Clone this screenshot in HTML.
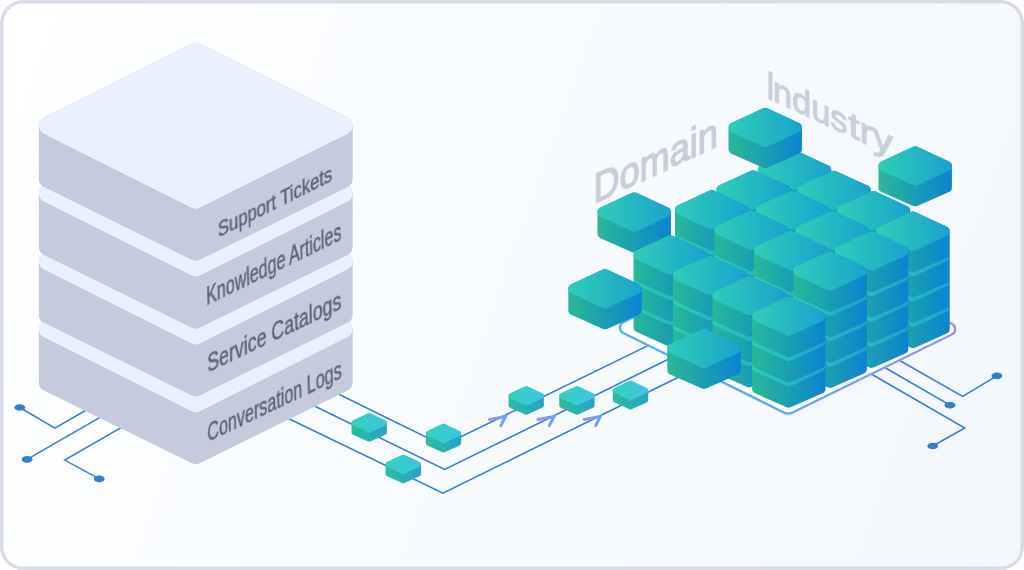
<!DOCTYPE html>
<html><head><meta charset="utf-8"><title>Diagram</title>
<style>html,body{margin:0;padding:0;background:#ffffff;}body{width:1024px;height:570px;overflow:hidden;font-family:"Liberation Sans",sans-serif;}svg{display:block;}</style>
</head><body>
<svg width="1024" height="570" viewBox="0 0 1024 570">

<defs>
<linearGradient id="bg" gradientUnits="userSpaceOnUse" x1="0" y1="100" x2="1024" y2="470">
  <stop offset="0" stop-color="#ffffff"/><stop offset="0.22" stop-color="#fbfdff"/><stop offset="0.5" stop-color="#f7fbfe"/><stop offset="1" stop-color="#f4f8fd"/>
</linearGradient>
<linearGradient id="gt" x1="0" y1="0" x2="1" y2="0">
  <stop offset="0" stop-color="#2fcdb8"/><stop offset="1" stop-color="#1aa2ce"/>
</linearGradient>
<linearGradient id="gb" x1="0" y1="0" x2="1" y2="0">
  <stop offset="0" stop-color="#2ab897"/><stop offset="1" stop-color="#0b83d1"/>
</linearGradient>
<linearGradient id="st" x1="0" y1="0" x2="1" y2="0">
  <stop offset="0" stop-color="#33d1bd"/><stop offset="1" stop-color="#3cc6e2"/>
</linearGradient>
<linearGradient id="sb" x1="0" y1="0" x2="1" y2="0">
  <stop offset="0" stop-color="#2bbd9c"/><stop offset="1" stop-color="#2aa3c8"/>
</linearGradient>
<linearGradient id="ol" gradientUnits="userSpaceOnUse" x1="620" y1="0" x2="955" y2="0">
  <stop offset="0" stop-color="#4fb0f8"/><stop offset="0.35" stop-color="#57a9f8"/><stop offset="0.7" stop-color="#7a9af8"/><stop offset="1" stop-color="#9c8ef8"/>
</linearGradient>
<linearGradient id="ar" x1="0" y1="0" x2="1" y2="0">
  <stop offset="0" stop-color="#9d8cf8"/><stop offset="0.6" stop-color="#8a98f8"/><stop offset="1" stop-color="#5caaf8"/>
</linearGradient>
<filter id="id" x="-5%" y="-50%" width="110%" height="200%" color-interpolation-filters="sRGB"><feOffset dx="0" dy="0"/></filter>
</defs>

<rect x="1.75" y="1.75" width="1020.5" height="566.5" rx="21.5" fill="url(#bg)" stroke="#d9dce7" stroke-width="3.5"/>
<polyline points="19.8,407.5 54.9,428.2 95.0,405.0" fill="none" stroke="#327cd7" stroke-width="1.5" stroke-linejoin="miter"/>
<ellipse cx="19.8" cy="407.5" rx="5.4" ry="3.3" fill="#2f7dd6"/>
<polyline points="27.1,459.4 110.0,411.6" fill="none" stroke="#327cd7" stroke-width="1.5" stroke-linejoin="miter"/>
<ellipse cx="27.1" cy="459.4" rx="5.4" ry="3.3" fill="#2f7dd6"/>
<polyline points="99.2,478.9 64.7,460.1 135.0,419.6" fill="none" stroke="#327cd7" stroke-width="1.5" stroke-linejoin="miter"/>
<ellipse cx="99.2" cy="478.9" rx="5.4" ry="3.3" fill="#2f7dd6"/>
<polyline points="320.0,385.0 443.0,445.5 649.0,345.2" fill="none" stroke="#327cd7" stroke-width="1.5" stroke-linejoin="miter"/>
<polyline points="300.0,399.0 444.7,469.5 680.0,353.5" fill="none" stroke="#327cd7" stroke-width="1.5" stroke-linejoin="miter"/>
<polyline points="275.0,412.0 443.0,493.2 690.0,371.5" fill="none" stroke="#327cd7" stroke-width="1.5" stroke-linejoin="miter"/>
<polyline points="890.0,355.0 962.6,396.3 996.9,375.8" fill="none" stroke="#327cd7" stroke-width="1.5" stroke-linejoin="miter"/>
<ellipse cx="996.9" cy="375.8" rx="5.4" ry="3.3" fill="#2f7dd6"/>
<polyline points="870.0,359.0 950.0,405.2" fill="none" stroke="#327cd7" stroke-width="1.5" stroke-linejoin="miter"/>
<ellipse cx="950.0" cy="405.2" rx="5.4" ry="3.3" fill="#2f7dd6"/>
<polyline points="860.0,367.5 964.8,428.0 932.7,446.0" fill="none" stroke="#327cd7" stroke-width="1.5" stroke-linejoin="miter"/>
<ellipse cx="932.7" cy="446.0" rx="5.4" ry="3.3" fill="#2f7dd6"/>
<path d="M43.80 337.05 A9.00 9.00 0 0 1 43.80 320.95 L191.72 246.82 A9.00 9.00 0 0 1 199.78 246.82 L347.70 320.95 A9.00 9.00 0 0 1 347.70 337.05 L199.78 411.18 A9.00 9.00 0 0 1 191.72 411.18 Z M43.87 390.52 A9.00 9.00 0 0 1 43.87 374.37 L191.78 301.65 A9.00 9.00 0 0 1 199.72 301.65 L347.63 374.37 A9.00 9.00 0 0 1 347.63 390.52 L199.72 463.25 A9.00 9.00 0 0 1 191.78 463.25 Z M38.84 329.00 L352.66 329.00 L352.66 382.45 L38.84 382.45 Z" fill="#c5cadc"/>
<path d="M43.80 337.05 A9.00 9.00 0 0 1 43.80 320.95 L191.72 246.82 A9.00 9.00 0 0 1 199.78 246.82 L347.70 320.95 A9.00 9.00 0 0 1 347.70 337.05 L199.78 411.18 A9.00 9.00 0 0 1 191.72 411.18 Z" fill="#ebf0ff"/>
<path d="M43.80 269.25 A9.00 9.00 0 0 1 43.80 253.15 L191.72 179.02 A9.00 9.00 0 0 1 199.78 179.02 L347.70 253.15 A9.00 9.00 0 0 1 347.70 269.25 L199.78 343.38 A9.00 9.00 0 0 1 191.72 343.38 Z M43.87 322.72 A9.00 9.00 0 0 1 43.87 306.57 L191.78 233.85 A9.00 9.00 0 0 1 199.72 233.85 L347.63 306.57 A9.00 9.00 0 0 1 347.63 322.72 L199.72 395.45 A9.00 9.00 0 0 1 191.78 395.45 Z M38.84 261.20 L352.66 261.20 L352.66 314.65 L38.84 314.65 Z" fill="#c5cadc"/>
<path d="M43.80 269.25 A9.00 9.00 0 0 1 43.80 253.15 L191.72 179.02 A9.00 9.00 0 0 1 199.78 179.02 L347.70 253.15 A9.00 9.00 0 0 1 347.70 269.25 L199.78 343.38 A9.00 9.00 0 0 1 191.72 343.38 Z" fill="#ebf0ff"/>
<path d="M43.80 201.45 A9.00 9.00 0 0 1 43.80 185.35 L191.72 111.22 A9.00 9.00 0 0 1 199.78 111.22 L347.70 185.35 A9.00 9.00 0 0 1 347.70 201.45 L199.78 275.58 A9.00 9.00 0 0 1 191.72 275.58 Z M43.87 254.92 A9.00 9.00 0 0 1 43.87 238.77 L191.78 166.05 A9.00 9.00 0 0 1 199.72 166.05 L347.63 238.77 A9.00 9.00 0 0 1 347.63 254.92 L199.72 327.65 A9.00 9.00 0 0 1 191.78 327.65 Z M38.84 193.40 L352.66 193.40 L352.66 246.85 L38.84 246.85 Z" fill="#c5cadc"/>
<path d="M43.80 201.45 A9.00 9.00 0 0 1 43.80 185.35 L191.72 111.22 A9.00 9.00 0 0 1 199.78 111.22 L347.70 185.35 A9.00 9.00 0 0 1 347.70 201.45 L199.78 275.58 A9.00 9.00 0 0 1 191.72 275.58 Z" fill="#ebf0ff"/>
<path d="M43.80 133.65 A9.00 9.00 0 0 1 43.80 117.55 L191.72 43.42 A9.00 9.00 0 0 1 199.78 43.42 L347.70 117.55 A9.00 9.00 0 0 1 347.70 133.65 L199.78 207.78 A9.00 9.00 0 0 1 191.72 207.78 Z M43.87 187.12 A9.00 9.00 0 0 1 43.87 170.97 L191.78 98.25 A9.00 9.00 0 0 1 199.72 98.25 L347.63 170.97 A9.00 9.00 0 0 1 347.63 187.12 L199.72 259.85 A9.00 9.00 0 0 1 191.78 259.85 Z M38.84 125.60 L352.66 125.60 L352.66 179.05 L38.84 179.05 Z" fill="#c5cadc"/>
<path d="M43.80 133.65 A9.00 9.00 0 0 1 43.80 117.55 L191.72 43.42 A9.00 9.00 0 0 1 199.78 43.42 L347.70 117.55 A9.00 9.00 0 0 1 347.70 133.65 L199.78 207.78 A9.00 9.00 0 0 1 191.72 207.78 Z" fill="#ebf0ff"/>
<text filter="url(#id)" transform="matrix(1 -0.499 0.030 1 218.2 237.6)" font-family="Liberation Sans, sans-serif" font-weight="normal" font-size="21.2" fill="#5c6478" stroke="#5c6478" stroke-width="0.45" textLength="114.2" lengthAdjust="spacingAndGlyphs">Support Tickets</text>
<text filter="url(#id)" transform="matrix(1 -0.488 0.030 1 206.5 305.5)" font-family="Liberation Sans, sans-serif" font-weight="normal" font-size="26" fill="#5c6478" stroke="#5c6478" stroke-width="0.45" textLength="135.1" lengthAdjust="spacingAndGlyphs">Knowledge Articles</text>
<text filter="url(#id)" transform="matrix(1 -0.480 0.030 1 207.6 372.8)" font-family="Liberation Sans, sans-serif" font-weight="normal" font-size="26" fill="#5c6478" stroke="#5c6478" stroke-width="0.45" textLength="134.0" lengthAdjust="spacingAndGlyphs">Service Catalogs</text>
<text filter="url(#id)" transform="matrix(1 -0.480 0.030 1 207.6 442.2)" font-family="Liberation Sans, sans-serif" font-weight="normal" font-size="26" fill="#5c6478" stroke="#5c6478" stroke-width="0.45" textLength="134.3" lengthAdjust="spacingAndGlyphs">Conversation Logs</text>
<path d="M623.23 333.00 A6.00 6.00 0 0 1 623.25 322.24 L783.06 243.97 A10.00 10.00 0 0 1 791.92 244.01 L951.83 323.78 A6.00 6.00 0 0 1 951.79 334.54 L792.62 412.44 A10.00 10.00 0 0 1 783.79 412.42 Z" fill="#ffffff" stroke="url(#ol)" stroke-width="2.3"/>
<text filter="url(#id)" transform="matrix(1 -0.467 0.000 1 593.6 204.1)" font-family="Liberation Sans, sans-serif" font-weight="normal" font-size="43" fill="#cacdd8" stroke="#cacdd8" stroke-width="1.5" textLength="124.2" lengthAdjust="spacingAndGlyphs">Domain</text>
<text filter="url(#id)" transform="matrix(1 0.465 0.000 1 765.8 97.3)" font-family="Liberation Sans, sans-serif" font-weight="normal" font-size="38" fill="#cbcfd9" stroke="#cbcfd9" stroke-width="1.3" textLength="9.2" lengthAdjust="spacingAndGlyphs">I</text>
<text filter="url(#id)" transform="matrix(1 0.465 0.000 1 773.0 100.6)" font-family="Liberation Sans, sans-serif" font-weight="normal" font-size="35" fill="#cbcfd9" stroke="#cbcfd9" stroke-width="1.3" textLength="74.6" lengthAdjust="spacingAndGlyphs">ndus</text>
<text filter="url(#id)" transform="matrix(1 0.465 0.000 1 848.6 135.8)" font-family="Liberation Sans, sans-serif" font-weight="normal" font-size="35" fill="#cbcfd9" stroke="#cbcfd9" stroke-width="1.3" textLength="44.0" lengthAdjust="spacingAndGlyphs">try</text>
<path d="M600.39 216.64 A5.00 5.00 0 0 1 600.39 207.56 L632.10 192.87 A5.00 5.00 0 0 1 636.30 192.87 L668.01 207.56 A5.00 5.00 0 0 1 668.01 216.64 L636.30 231.33 A5.00 5.00 0 0 1 632.10 231.33 Z M600.47 238.17 A5.00 5.00 0 0 1 600.47 229.02 L632.18 214.99 A5.00 5.00 0 0 1 636.22 214.99 L667.93 229.02 A5.00 5.00 0 0 1 667.93 238.17 L636.22 252.20 A5.00 5.00 0 0 1 632.18 252.20 Z M597.49 212.10 L670.91 212.10 L670.91 233.60 L597.49 233.60 Z" fill="url(#gb)"/>
<path d="M600.39 216.64 A5.00 5.00 0 0 1 600.39 207.56 L632.10 192.87 A5.00 5.00 0 0 1 636.30 192.87 L668.01 207.56 A5.00 5.00 0 0 1 668.01 216.64 L636.30 231.33 A5.00 5.00 0 0 1 632.10 231.33 Z" fill="url(#gt)"/>
<path d="M881.39 170.54 A5.00 5.00 0 0 1 881.39 161.46 L913.10 146.77 A5.00 5.00 0 0 1 917.30 146.77 L949.01 161.46 A5.00 5.00 0 0 1 949.01 170.54 L917.30 185.23 A5.00 5.00 0 0 1 913.10 185.23 Z M881.47 192.07 A5.00 5.00 0 0 1 881.47 182.92 L913.18 168.89 A5.00 5.00 0 0 1 917.22 168.89 L948.93 182.92 A5.00 5.00 0 0 1 948.93 192.07 L917.22 206.10 A5.00 5.00 0 0 1 913.18 206.10 Z M878.49 166.00 L951.91 166.00 L951.91 187.50 L878.49 187.50 Z" fill="url(#gb)"/>
<path d="M881.39 170.54 A5.00 5.00 0 0 1 881.39 161.46 L913.10 146.77 A5.00 5.00 0 0 1 917.30 146.77 L949.01 161.46 A5.00 5.00 0 0 1 949.01 170.54 L917.30 185.23 A5.00 5.00 0 0 1 913.10 185.23 Z" fill="url(#gt)"/>
<path d="M760.69 250.44 A5.00 5.00 0 0 1 760.69 241.36 L792.40 226.67 A5.00 5.00 0 0 1 796.60 226.67 L828.31 241.36 A5.00 5.00 0 0 1 828.31 250.44 L796.60 265.13 A5.00 5.00 0 0 1 792.40 265.13 Z M760.77 272.42 A5.00 5.00 0 0 1 760.77 263.27 L792.48 249.24 A5.00 5.00 0 0 1 796.52 249.24 L828.23 263.27 A5.00 5.00 0 0 1 828.23 272.42 L796.52 286.45 A5.00 5.00 0 0 1 792.48 286.45 Z M757.79 245.90 L831.21 245.90 L831.21 267.85 L757.79 267.85 Z" fill="url(#gb)"/>
<path d="M760.69 250.44 A5.00 5.00 0 0 1 760.69 241.36 L792.40 226.67 A5.00 5.00 0 0 1 796.60 226.67 L828.31 241.36 A5.00 5.00 0 0 1 828.31 250.44 L796.60 265.13 A5.00 5.00 0 0 1 792.40 265.13 Z" fill="url(#gt)"/>
<path d="M760.69 225.14 A5.00 5.00 0 0 1 760.69 216.06 L792.40 201.37 A5.00 5.00 0 0 1 796.60 201.37 L828.31 216.06 A5.00 5.00 0 0 1 828.31 225.14 L796.60 239.83 A5.00 5.00 0 0 1 792.40 239.83 Z M760.77 247.12 A5.00 5.00 0 0 1 760.77 237.97 L792.48 223.94 A5.00 5.00 0 0 1 796.52 223.94 L828.23 237.97 A5.00 5.00 0 0 1 828.23 247.12 L796.52 261.15 A5.00 5.00 0 0 1 792.48 261.15 Z M757.79 220.60 L831.21 220.60 L831.21 242.55 L757.79 242.55 Z" fill="url(#gb)"/>
<path d="M760.69 225.14 A5.00 5.00 0 0 1 760.69 216.06 L792.40 201.37 A5.00 5.00 0 0 1 796.60 201.37 L828.31 216.06 A5.00 5.00 0 0 1 828.31 225.14 L796.60 239.83 A5.00 5.00 0 0 1 792.40 239.83 Z" fill="url(#gt)"/>
<path d="M760.69 199.84 A5.00 5.00 0 0 1 760.69 190.76 L792.40 176.07 A5.00 5.00 0 0 1 796.60 176.07 L828.31 190.76 A5.00 5.00 0 0 1 828.31 199.84 L796.60 214.53 A5.00 5.00 0 0 1 792.40 214.53 Z M760.77 221.82 A5.00 5.00 0 0 1 760.77 212.67 L792.48 198.64 A5.00 5.00 0 0 1 796.52 198.64 L828.23 212.67 A5.00 5.00 0 0 1 828.23 221.82 L796.52 235.85 A5.00 5.00 0 0 1 792.48 235.85 Z M757.79 195.30 L831.21 195.30 L831.21 217.25 L757.79 217.25 Z" fill="url(#gb)"/>
<path d="M760.69 199.84 A5.00 5.00 0 0 1 760.69 190.76 L792.40 176.07 A5.00 5.00 0 0 1 796.60 176.07 L828.31 190.76 A5.00 5.00 0 0 1 828.31 199.84 L796.60 214.53 A5.00 5.00 0 0 1 792.40 214.53 Z" fill="url(#gt)"/>
<path d="M760.69 174.54 A5.00 5.00 0 0 1 760.69 165.46 L792.40 150.77 A5.00 5.00 0 0 1 796.60 150.77 L828.31 165.46 A5.00 5.00 0 0 1 828.31 174.54 L796.60 189.23 A5.00 5.00 0 0 1 792.40 189.23 Z M760.77 196.52 A5.00 5.00 0 0 1 760.77 187.37 L792.48 173.34 A5.00 5.00 0 0 1 796.52 173.34 L828.23 187.37 A5.00 5.00 0 0 1 828.23 196.52 L796.52 210.55 A5.00 5.00 0 0 1 792.48 210.55 Z M757.79 170.00 L831.21 170.00 L831.21 191.95 L757.79 191.95 Z" fill="url(#gb)"/>
<path d="M760.69 174.54 A5.00 5.00 0 0 1 760.69 165.46 L792.40 150.77 A5.00 5.00 0 0 1 796.60 150.77 L828.31 165.46 A5.00 5.00 0 0 1 828.31 174.54 L796.60 189.23 A5.00 5.00 0 0 1 792.40 189.23 Z" fill="url(#gt)"/>
<path d="M719.29 270.34 A5.00 5.00 0 0 1 719.29 261.26 L751.00 246.57 A5.00 5.00 0 0 1 755.20 246.57 L786.91 261.26 A5.00 5.00 0 0 1 786.91 270.34 L755.20 285.03 A5.00 5.00 0 0 1 751.00 285.03 Z M719.37 292.32 A5.00 5.00 0 0 1 719.37 283.17 L751.08 269.14 A5.00 5.00 0 0 1 755.12 269.14 L786.83 283.17 A5.00 5.00 0 0 1 786.83 292.32 L755.12 306.35 A5.00 5.00 0 0 1 751.08 306.35 Z M716.39 265.80 L789.81 265.80 L789.81 287.75 L716.39 287.75 Z" fill="url(#gb)"/>
<path d="M719.29 270.34 A5.00 5.00 0 0 1 719.29 261.26 L751.00 246.57 A5.00 5.00 0 0 1 755.20 246.57 L786.91 261.26 A5.00 5.00 0 0 1 786.91 270.34 L755.20 285.03 A5.00 5.00 0 0 1 751.00 285.03 Z" fill="url(#gt)"/>
<path d="M719.29 245.04 A5.00 5.00 0 0 1 719.29 235.96 L751.00 221.27 A5.00 5.00 0 0 1 755.20 221.27 L786.91 235.96 A5.00 5.00 0 0 1 786.91 245.04 L755.20 259.73 A5.00 5.00 0 0 1 751.00 259.73 Z M719.37 267.02 A5.00 5.00 0 0 1 719.37 257.87 L751.08 243.84 A5.00 5.00 0 0 1 755.12 243.84 L786.83 257.87 A5.00 5.00 0 0 1 786.83 267.02 L755.12 281.05 A5.00 5.00 0 0 1 751.08 281.05 Z M716.39 240.50 L789.81 240.50 L789.81 262.45 L716.39 262.45 Z" fill="url(#gb)"/>
<path d="M719.29 245.04 A5.00 5.00 0 0 1 719.29 235.96 L751.00 221.27 A5.00 5.00 0 0 1 755.20 221.27 L786.91 235.96 A5.00 5.00 0 0 1 786.91 245.04 L755.20 259.73 A5.00 5.00 0 0 1 751.00 259.73 Z" fill="url(#gt)"/>
<path d="M719.29 219.74 A5.00 5.00 0 0 1 719.29 210.66 L751.00 195.97 A5.00 5.00 0 0 1 755.20 195.97 L786.91 210.66 A5.00 5.00 0 0 1 786.91 219.74 L755.20 234.43 A5.00 5.00 0 0 1 751.00 234.43 Z M719.37 241.72 A5.00 5.00 0 0 1 719.37 232.57 L751.08 218.54 A5.00 5.00 0 0 1 755.12 218.54 L786.83 232.57 A5.00 5.00 0 0 1 786.83 241.72 L755.12 255.75 A5.00 5.00 0 0 1 751.08 255.75 Z M716.39 215.20 L789.81 215.20 L789.81 237.15 L716.39 237.15 Z" fill="url(#gb)"/>
<path d="M719.29 219.74 A5.00 5.00 0 0 1 719.29 210.66 L751.00 195.97 A5.00 5.00 0 0 1 755.20 195.97 L786.91 210.66 A5.00 5.00 0 0 1 786.91 219.74 L755.20 234.43 A5.00 5.00 0 0 1 751.00 234.43 Z" fill="url(#gt)"/>
<path d="M719.29 194.44 A5.00 5.00 0 0 1 719.29 185.36 L751.00 170.67 A5.00 5.00 0 0 1 755.20 170.67 L786.91 185.36 A5.00 5.00 0 0 1 786.91 194.44 L755.20 209.13 A5.00 5.00 0 0 1 751.00 209.13 Z M719.37 216.42 A5.00 5.00 0 0 1 719.37 207.27 L751.08 193.24 A5.00 5.00 0 0 1 755.12 193.24 L786.83 207.27 A5.00 5.00 0 0 1 786.83 216.42 L755.12 230.45 A5.00 5.00 0 0 1 751.08 230.45 Z M716.39 189.90 L789.81 189.90 L789.81 211.85 L716.39 211.85 Z" fill="url(#gb)"/>
<path d="M719.29 194.44 A5.00 5.00 0 0 1 719.29 185.36 L751.00 170.67 A5.00 5.00 0 0 1 755.20 170.67 L786.91 185.36 A5.00 5.00 0 0 1 786.91 194.44 L755.20 209.13 A5.00 5.00 0 0 1 751.00 209.13 Z" fill="url(#gt)"/>
<path d="M800.19 270.84 A5.00 5.00 0 0 1 800.19 261.76 L831.90 247.07 A5.00 5.00 0 0 1 836.10 247.07 L867.81 261.76 A5.00 5.00 0 0 1 867.81 270.84 L836.10 285.53 A5.00 5.00 0 0 1 831.90 285.53 Z M800.27 292.82 A5.00 5.00 0 0 1 800.27 283.67 L831.98 269.64 A5.00 5.00 0 0 1 836.02 269.64 L867.73 283.67 A5.00 5.00 0 0 1 867.73 292.82 L836.02 306.85 A5.00 5.00 0 0 1 831.98 306.85 Z M797.29 266.30 L870.71 266.30 L870.71 288.25 L797.29 288.25 Z" fill="url(#gb)"/>
<path d="M800.19 270.84 A5.00 5.00 0 0 1 800.19 261.76 L831.90 247.07 A5.00 5.00 0 0 1 836.10 247.07 L867.81 261.76 A5.00 5.00 0 0 1 867.81 270.84 L836.10 285.53 A5.00 5.00 0 0 1 831.90 285.53 Z" fill="url(#gt)"/>
<path d="M800.19 245.54 A5.00 5.00 0 0 1 800.19 236.46 L831.90 221.77 A5.00 5.00 0 0 1 836.10 221.77 L867.81 236.46 A5.00 5.00 0 0 1 867.81 245.54 L836.10 260.23 A5.00 5.00 0 0 1 831.90 260.23 Z M800.27 267.52 A5.00 5.00 0 0 1 800.27 258.37 L831.98 244.34 A5.00 5.00 0 0 1 836.02 244.34 L867.73 258.37 A5.00 5.00 0 0 1 867.73 267.52 L836.02 281.55 A5.00 5.00 0 0 1 831.98 281.55 Z M797.29 241.00 L870.71 241.00 L870.71 262.95 L797.29 262.95 Z" fill="url(#gb)"/>
<path d="M800.19 245.54 A5.00 5.00 0 0 1 800.19 236.46 L831.90 221.77 A5.00 5.00 0 0 1 836.10 221.77 L867.81 236.46 A5.00 5.00 0 0 1 867.81 245.54 L836.10 260.23 A5.00 5.00 0 0 1 831.90 260.23 Z" fill="url(#gt)"/>
<path d="M800.19 220.24 A5.00 5.00 0 0 1 800.19 211.16 L831.90 196.47 A5.00 5.00 0 0 1 836.10 196.47 L867.81 211.16 A5.00 5.00 0 0 1 867.81 220.24 L836.10 234.93 A5.00 5.00 0 0 1 831.90 234.93 Z M800.27 242.22 A5.00 5.00 0 0 1 800.27 233.07 L831.98 219.04 A5.00 5.00 0 0 1 836.02 219.04 L867.73 233.07 A5.00 5.00 0 0 1 867.73 242.22 L836.02 256.25 A5.00 5.00 0 0 1 831.98 256.25 Z M797.29 215.70 L870.71 215.70 L870.71 237.65 L797.29 237.65 Z" fill="url(#gb)"/>
<path d="M800.19 220.24 A5.00 5.00 0 0 1 800.19 211.16 L831.90 196.47 A5.00 5.00 0 0 1 836.10 196.47 L867.81 211.16 A5.00 5.00 0 0 1 867.81 220.24 L836.10 234.93 A5.00 5.00 0 0 1 831.90 234.93 Z" fill="url(#gt)"/>
<path d="M800.19 194.94 A5.00 5.00 0 0 1 800.19 185.86 L831.90 171.17 A5.00 5.00 0 0 1 836.10 171.17 L867.81 185.86 A5.00 5.00 0 0 1 867.81 194.94 L836.10 209.63 A5.00 5.00 0 0 1 831.90 209.63 Z M800.27 216.92 A5.00 5.00 0 0 1 800.27 207.77 L831.98 193.74 A5.00 5.00 0 0 1 836.02 193.74 L867.73 207.77 A5.00 5.00 0 0 1 867.73 216.92 L836.02 230.95 A5.00 5.00 0 0 1 831.98 230.95 Z M797.29 190.40 L870.71 190.40 L870.71 212.35 L797.29 212.35 Z" fill="url(#gb)"/>
<path d="M800.19 194.94 A5.00 5.00 0 0 1 800.19 185.86 L831.90 171.17 A5.00 5.00 0 0 1 836.10 171.17 L867.81 185.86 A5.00 5.00 0 0 1 867.81 194.94 L836.10 209.63 A5.00 5.00 0 0 1 831.90 209.63 Z" fill="url(#gt)"/>
<path d="M677.89 290.24 A5.00 5.00 0 0 1 677.89 281.16 L709.60 266.47 A5.00 5.00 0 0 1 713.80 266.47 L745.51 281.16 A5.00 5.00 0 0 1 745.51 290.24 L713.80 304.93 A5.00 5.00 0 0 1 709.60 304.93 Z M677.97 312.22 A5.00 5.00 0 0 1 677.97 303.07 L709.68 289.04 A5.00 5.00 0 0 1 713.72 289.04 L745.43 303.07 A5.00 5.00 0 0 1 745.43 312.22 L713.72 326.25 A5.00 5.00 0 0 1 709.68 326.25 Z M674.99 285.70 L748.41 285.70 L748.41 307.65 L674.99 307.65 Z" fill="url(#gb)"/>
<path d="M677.89 290.24 A5.00 5.00 0 0 1 677.89 281.16 L709.60 266.47 A5.00 5.00 0 0 1 713.80 266.47 L745.51 281.16 A5.00 5.00 0 0 1 745.51 290.24 L713.80 304.93 A5.00 5.00 0 0 1 709.60 304.93 Z" fill="url(#gt)"/>
<path d="M677.89 264.94 A5.00 5.00 0 0 1 677.89 255.86 L709.60 241.17 A5.00 5.00 0 0 1 713.80 241.17 L745.51 255.86 A5.00 5.00 0 0 1 745.51 264.94 L713.80 279.63 A5.00 5.00 0 0 1 709.60 279.63 Z M677.97 286.92 A5.00 5.00 0 0 1 677.97 277.77 L709.68 263.74 A5.00 5.00 0 0 1 713.72 263.74 L745.43 277.77 A5.00 5.00 0 0 1 745.43 286.92 L713.72 300.95 A5.00 5.00 0 0 1 709.68 300.95 Z M674.99 260.40 L748.41 260.40 L748.41 282.35 L674.99 282.35 Z" fill="url(#gb)"/>
<path d="M677.89 264.94 A5.00 5.00 0 0 1 677.89 255.86 L709.60 241.17 A5.00 5.00 0 0 1 713.80 241.17 L745.51 255.86 A5.00 5.00 0 0 1 745.51 264.94 L713.80 279.63 A5.00 5.00 0 0 1 709.60 279.63 Z" fill="url(#gt)"/>
<path d="M677.89 239.64 A5.00 5.00 0 0 1 677.89 230.56 L709.60 215.87 A5.00 5.00 0 0 1 713.80 215.87 L745.51 230.56 A5.00 5.00 0 0 1 745.51 239.64 L713.80 254.33 A5.00 5.00 0 0 1 709.60 254.33 Z M677.97 261.62 A5.00 5.00 0 0 1 677.97 252.47 L709.68 238.44 A5.00 5.00 0 0 1 713.72 238.44 L745.43 252.47 A5.00 5.00 0 0 1 745.43 261.62 L713.72 275.65 A5.00 5.00 0 0 1 709.68 275.65 Z M674.99 235.10 L748.41 235.10 L748.41 257.05 L674.99 257.05 Z" fill="url(#gb)"/>
<path d="M677.89 239.64 A5.00 5.00 0 0 1 677.89 230.56 L709.60 215.87 A5.00 5.00 0 0 1 713.80 215.87 L745.51 230.56 A5.00 5.00 0 0 1 745.51 239.64 L713.80 254.33 A5.00 5.00 0 0 1 709.60 254.33 Z" fill="url(#gt)"/>
<path d="M677.89 214.34 A5.00 5.00 0 0 1 677.89 205.26 L709.60 190.57 A5.00 5.00 0 0 1 713.80 190.57 L745.51 205.26 A5.00 5.00 0 0 1 745.51 214.34 L713.80 229.03 A5.00 5.00 0 0 1 709.60 229.03 Z M677.97 236.32 A5.00 5.00 0 0 1 677.97 227.17 L709.68 213.14 A5.00 5.00 0 0 1 713.72 213.14 L745.43 227.17 A5.00 5.00 0 0 1 745.43 236.32 L713.72 250.35 A5.00 5.00 0 0 1 709.68 250.35 Z M674.99 209.80 L748.41 209.80 L748.41 231.75 L674.99 231.75 Z" fill="url(#gb)"/>
<path d="M677.89 214.34 A5.00 5.00 0 0 1 677.89 205.26 L709.60 190.57 A5.00 5.00 0 0 1 713.80 190.57 L745.51 205.26 A5.00 5.00 0 0 1 745.51 214.34 L713.80 229.03 A5.00 5.00 0 0 1 709.60 229.03 Z" fill="url(#gt)"/>
<path d="M758.79 290.74 A5.00 5.00 0 0 1 758.79 281.66 L790.50 266.97 A5.00 5.00 0 0 1 794.70 266.97 L826.41 281.66 A5.00 5.00 0 0 1 826.41 290.74 L794.70 305.43 A5.00 5.00 0 0 1 790.50 305.43 Z M758.87 312.72 A5.00 5.00 0 0 1 758.87 303.57 L790.58 289.54 A5.00 5.00 0 0 1 794.62 289.54 L826.33 303.57 A5.00 5.00 0 0 1 826.33 312.72 L794.62 326.75 A5.00 5.00 0 0 1 790.58 326.75 Z M755.89 286.20 L829.31 286.20 L829.31 308.15 L755.89 308.15 Z" fill="url(#gb)"/>
<path d="M758.79 290.74 A5.00 5.00 0 0 1 758.79 281.66 L790.50 266.97 A5.00 5.00 0 0 1 794.70 266.97 L826.41 281.66 A5.00 5.00 0 0 1 826.41 290.74 L794.70 305.43 A5.00 5.00 0 0 1 790.50 305.43 Z" fill="url(#gt)"/>
<path d="M758.79 265.44 A5.00 5.00 0 0 1 758.79 256.36 L790.50 241.67 A5.00 5.00 0 0 1 794.70 241.67 L826.41 256.36 A5.00 5.00 0 0 1 826.41 265.44 L794.70 280.13 A5.00 5.00 0 0 1 790.50 280.13 Z M758.87 287.42 A5.00 5.00 0 0 1 758.87 278.27 L790.58 264.24 A5.00 5.00 0 0 1 794.62 264.24 L826.33 278.27 A5.00 5.00 0 0 1 826.33 287.42 L794.62 301.45 A5.00 5.00 0 0 1 790.58 301.45 Z M755.89 260.90 L829.31 260.90 L829.31 282.85 L755.89 282.85 Z" fill="url(#gb)"/>
<path d="M758.79 265.44 A5.00 5.00 0 0 1 758.79 256.36 L790.50 241.67 A5.00 5.00 0 0 1 794.70 241.67 L826.41 256.36 A5.00 5.00 0 0 1 826.41 265.44 L794.70 280.13 A5.00 5.00 0 0 1 790.50 280.13 Z" fill="url(#gt)"/>
<path d="M758.79 240.14 A5.00 5.00 0 0 1 758.79 231.06 L790.50 216.37 A5.00 5.00 0 0 1 794.70 216.37 L826.41 231.06 A5.00 5.00 0 0 1 826.41 240.14 L794.70 254.83 A5.00 5.00 0 0 1 790.50 254.83 Z M758.87 262.12 A5.00 5.00 0 0 1 758.87 252.97 L790.58 238.94 A5.00 5.00 0 0 1 794.62 238.94 L826.33 252.97 A5.00 5.00 0 0 1 826.33 262.12 L794.62 276.15 A5.00 5.00 0 0 1 790.58 276.15 Z M755.89 235.60 L829.31 235.60 L829.31 257.55 L755.89 257.55 Z" fill="url(#gb)"/>
<path d="M758.79 240.14 A5.00 5.00 0 0 1 758.79 231.06 L790.50 216.37 A5.00 5.00 0 0 1 794.70 216.37 L826.41 231.06 A5.00 5.00 0 0 1 826.41 240.14 L794.70 254.83 A5.00 5.00 0 0 1 790.50 254.83 Z" fill="url(#gt)"/>
<path d="M758.79 214.84 A5.00 5.00 0 0 1 758.79 205.76 L790.50 191.07 A5.00 5.00 0 0 1 794.70 191.07 L826.41 205.76 A5.00 5.00 0 0 1 826.41 214.84 L794.70 229.53 A5.00 5.00 0 0 1 790.50 229.53 Z M758.87 236.82 A5.00 5.00 0 0 1 758.87 227.67 L790.58 213.64 A5.00 5.00 0 0 1 794.62 213.64 L826.33 227.67 A5.00 5.00 0 0 1 826.33 236.82 L794.62 250.85 A5.00 5.00 0 0 1 790.58 250.85 Z M755.89 210.30 L829.31 210.30 L829.31 232.25 L755.89 232.25 Z" fill="url(#gb)"/>
<path d="M758.79 214.84 A5.00 5.00 0 0 1 758.79 205.76 L790.50 191.07 A5.00 5.00 0 0 1 794.70 191.07 L826.41 205.76 A5.00 5.00 0 0 1 826.41 214.84 L794.70 229.53 A5.00 5.00 0 0 1 790.50 229.53 Z" fill="url(#gt)"/>
<path d="M839.69 291.24 A5.00 5.00 0 0 1 839.69 282.16 L871.40 267.47 A5.00 5.00 0 0 1 875.60 267.47 L907.31 282.16 A5.00 5.00 0 0 1 907.31 291.24 L875.60 305.93 A5.00 5.00 0 0 1 871.40 305.93 Z M839.77 313.22 A5.00 5.00 0 0 1 839.77 304.07 L871.48 290.04 A5.00 5.00 0 0 1 875.52 290.04 L907.23 304.07 A5.00 5.00 0 0 1 907.23 313.22 L875.52 327.25 A5.00 5.00 0 0 1 871.48 327.25 Z M836.79 286.70 L910.21 286.70 L910.21 308.65 L836.79 308.65 Z" fill="url(#gb)"/>
<path d="M839.69 291.24 A5.00 5.00 0 0 1 839.69 282.16 L871.40 267.47 A5.00 5.00 0 0 1 875.60 267.47 L907.31 282.16 A5.00 5.00 0 0 1 907.31 291.24 L875.60 305.93 A5.00 5.00 0 0 1 871.40 305.93 Z" fill="url(#gt)"/>
<path d="M839.69 265.94 A5.00 5.00 0 0 1 839.69 256.86 L871.40 242.17 A5.00 5.00 0 0 1 875.60 242.17 L907.31 256.86 A5.00 5.00 0 0 1 907.31 265.94 L875.60 280.63 A5.00 5.00 0 0 1 871.40 280.63 Z M839.77 287.92 A5.00 5.00 0 0 1 839.77 278.77 L871.48 264.74 A5.00 5.00 0 0 1 875.52 264.74 L907.23 278.77 A5.00 5.00 0 0 1 907.23 287.92 L875.52 301.95 A5.00 5.00 0 0 1 871.48 301.95 Z M836.79 261.40 L910.21 261.40 L910.21 283.35 L836.79 283.35 Z" fill="url(#gb)"/>
<path d="M839.69 265.94 A5.00 5.00 0 0 1 839.69 256.86 L871.40 242.17 A5.00 5.00 0 0 1 875.60 242.17 L907.31 256.86 A5.00 5.00 0 0 1 907.31 265.94 L875.60 280.63 A5.00 5.00 0 0 1 871.40 280.63 Z" fill="url(#gt)"/>
<path d="M839.69 240.64 A5.00 5.00 0 0 1 839.69 231.56 L871.40 216.87 A5.00 5.00 0 0 1 875.60 216.87 L907.31 231.56 A5.00 5.00 0 0 1 907.31 240.64 L875.60 255.33 A5.00 5.00 0 0 1 871.40 255.33 Z M839.77 262.62 A5.00 5.00 0 0 1 839.77 253.47 L871.48 239.44 A5.00 5.00 0 0 1 875.52 239.44 L907.23 253.47 A5.00 5.00 0 0 1 907.23 262.62 L875.52 276.65 A5.00 5.00 0 0 1 871.48 276.65 Z M836.79 236.10 L910.21 236.10 L910.21 258.05 L836.79 258.05 Z" fill="url(#gb)"/>
<path d="M839.69 240.64 A5.00 5.00 0 0 1 839.69 231.56 L871.40 216.87 A5.00 5.00 0 0 1 875.60 216.87 L907.31 231.56 A5.00 5.00 0 0 1 907.31 240.64 L875.60 255.33 A5.00 5.00 0 0 1 871.40 255.33 Z" fill="url(#gt)"/>
<path d="M839.69 215.34 A5.00 5.00 0 0 1 839.69 206.26 L871.40 191.57 A5.00 5.00 0 0 1 875.60 191.57 L907.31 206.26 A5.00 5.00 0 0 1 907.31 215.34 L875.60 230.03 A5.00 5.00 0 0 1 871.40 230.03 Z M839.77 237.32 A5.00 5.00 0 0 1 839.77 228.17 L871.48 214.14 A5.00 5.00 0 0 1 875.52 214.14 L907.23 228.17 A5.00 5.00 0 0 1 907.23 237.32 L875.52 251.35 A5.00 5.00 0 0 1 871.48 251.35 Z M836.79 210.80 L910.21 210.80 L910.21 232.75 L836.79 232.75 Z" fill="url(#gb)"/>
<path d="M839.69 215.34 A5.00 5.00 0 0 1 839.69 206.26 L871.40 191.57 A5.00 5.00 0 0 1 875.60 191.57 L907.31 206.26 A5.00 5.00 0 0 1 907.31 215.34 L875.60 230.03 A5.00 5.00 0 0 1 871.40 230.03 Z" fill="url(#gt)"/>
<path d="M636.49 310.14 A5.00 5.00 0 0 1 636.49 301.06 L668.20 286.37 A5.00 5.00 0 0 1 672.40 286.37 L704.11 301.06 A5.00 5.00 0 0 1 704.11 310.14 L672.40 324.83 A5.00 5.00 0 0 1 668.20 324.83 Z M636.57 332.12 A5.00 5.00 0 0 1 636.57 322.97 L668.28 308.94 A5.00 5.00 0 0 1 672.32 308.94 L704.03 322.97 A5.00 5.00 0 0 1 704.03 332.12 L672.32 346.15 A5.00 5.00 0 0 1 668.28 346.15 Z M633.59 305.60 L707.01 305.60 L707.01 327.55 L633.59 327.55 Z" fill="url(#gb)"/>
<path d="M636.49 310.14 A5.00 5.00 0 0 1 636.49 301.06 L668.20 286.37 A5.00 5.00 0 0 1 672.40 286.37 L704.11 301.06 A5.00 5.00 0 0 1 704.11 310.14 L672.40 324.83 A5.00 5.00 0 0 1 668.20 324.83 Z" fill="url(#gt)"/>
<path d="M636.49 284.84 A5.00 5.00 0 0 1 636.49 275.76 L668.20 261.07 A5.00 5.00 0 0 1 672.40 261.07 L704.11 275.76 A5.00 5.00 0 0 1 704.11 284.84 L672.40 299.53 A5.00 5.00 0 0 1 668.20 299.53 Z M636.57 306.82 A5.00 5.00 0 0 1 636.57 297.67 L668.28 283.64 A5.00 5.00 0 0 1 672.32 283.64 L704.03 297.67 A5.00 5.00 0 0 1 704.03 306.82 L672.32 320.85 A5.00 5.00 0 0 1 668.28 320.85 Z M633.59 280.30 L707.01 280.30 L707.01 302.25 L633.59 302.25 Z" fill="url(#gb)"/>
<path d="M636.49 284.84 A5.00 5.00 0 0 1 636.49 275.76 L668.20 261.07 A5.00 5.00 0 0 1 672.40 261.07 L704.11 275.76 A5.00 5.00 0 0 1 704.11 284.84 L672.40 299.53 A5.00 5.00 0 0 1 668.20 299.53 Z" fill="url(#gt)"/>
<path d="M636.49 259.54 A5.00 5.00 0 0 1 636.49 250.46 L668.20 235.77 A5.00 5.00 0 0 1 672.40 235.77 L704.11 250.46 A5.00 5.00 0 0 1 704.11 259.54 L672.40 274.23 A5.00 5.00 0 0 1 668.20 274.23 Z M636.57 281.52 A5.00 5.00 0 0 1 636.57 272.37 L668.28 258.34 A5.00 5.00 0 0 1 672.32 258.34 L704.03 272.37 A5.00 5.00 0 0 1 704.03 281.52 L672.32 295.55 A5.00 5.00 0 0 1 668.28 295.55 Z M633.59 255.00 L707.01 255.00 L707.01 276.95 L633.59 276.95 Z" fill="url(#gb)"/>
<path d="M636.49 259.54 A5.00 5.00 0 0 1 636.49 250.46 L668.20 235.77 A5.00 5.00 0 0 1 672.40 235.77 L704.11 250.46 A5.00 5.00 0 0 1 704.11 259.54 L672.40 274.23 A5.00 5.00 0 0 1 668.20 274.23 Z" fill="url(#gt)"/>
<path d="M717.39 310.64 A5.00 5.00 0 0 1 717.39 301.56 L749.10 286.87 A5.00 5.00 0 0 1 753.30 286.87 L785.01 301.56 A5.00 5.00 0 0 1 785.01 310.64 L753.30 325.33 A5.00 5.00 0 0 1 749.10 325.33 Z M717.47 332.62 A5.00 5.00 0 0 1 717.47 323.47 L749.18 309.44 A5.00 5.00 0 0 1 753.22 309.44 L784.93 323.47 A5.00 5.00 0 0 1 784.93 332.62 L753.22 346.65 A5.00 5.00 0 0 1 749.18 346.65 Z M714.49 306.10 L787.91 306.10 L787.91 328.05 L714.49 328.05 Z" fill="url(#gb)"/>
<path d="M717.39 310.64 A5.00 5.00 0 0 1 717.39 301.56 L749.10 286.87 A5.00 5.00 0 0 1 753.30 286.87 L785.01 301.56 A5.00 5.00 0 0 1 785.01 310.64 L753.30 325.33 A5.00 5.00 0 0 1 749.10 325.33 Z" fill="url(#gt)"/>
<path d="M717.39 285.34 A5.00 5.00 0 0 1 717.39 276.26 L749.10 261.57 A5.00 5.00 0 0 1 753.30 261.57 L785.01 276.26 A5.00 5.00 0 0 1 785.01 285.34 L753.30 300.03 A5.00 5.00 0 0 1 749.10 300.03 Z M717.47 307.32 A5.00 5.00 0 0 1 717.47 298.17 L749.18 284.14 A5.00 5.00 0 0 1 753.22 284.14 L784.93 298.17 A5.00 5.00 0 0 1 784.93 307.32 L753.22 321.35 A5.00 5.00 0 0 1 749.18 321.35 Z M714.49 280.80 L787.91 280.80 L787.91 302.75 L714.49 302.75 Z" fill="url(#gb)"/>
<path d="M717.39 285.34 A5.00 5.00 0 0 1 717.39 276.26 L749.10 261.57 A5.00 5.00 0 0 1 753.30 261.57 L785.01 276.26 A5.00 5.00 0 0 1 785.01 285.34 L753.30 300.03 A5.00 5.00 0 0 1 749.10 300.03 Z" fill="url(#gt)"/>
<path d="M717.39 260.04 A5.00 5.00 0 0 1 717.39 250.96 L749.10 236.27 A5.00 5.00 0 0 1 753.30 236.27 L785.01 250.96 A5.00 5.00 0 0 1 785.01 260.04 L753.30 274.73 A5.00 5.00 0 0 1 749.10 274.73 Z M717.47 282.02 A5.00 5.00 0 0 1 717.47 272.87 L749.18 258.84 A5.00 5.00 0 0 1 753.22 258.84 L784.93 272.87 A5.00 5.00 0 0 1 784.93 282.02 L753.22 296.05 A5.00 5.00 0 0 1 749.18 296.05 Z M714.49 255.50 L787.91 255.50 L787.91 277.45 L714.49 277.45 Z" fill="url(#gb)"/>
<path d="M717.39 260.04 A5.00 5.00 0 0 1 717.39 250.96 L749.10 236.27 A5.00 5.00 0 0 1 753.30 236.27 L785.01 250.96 A5.00 5.00 0 0 1 785.01 260.04 L753.30 274.73 A5.00 5.00 0 0 1 749.10 274.73 Z" fill="url(#gt)"/>
<path d="M717.39 234.74 A5.00 5.00 0 0 1 717.39 225.66 L749.10 210.97 A5.00 5.00 0 0 1 753.30 210.97 L785.01 225.66 A5.00 5.00 0 0 1 785.01 234.74 L753.30 249.43 A5.00 5.00 0 0 1 749.10 249.43 Z M717.47 256.72 A5.00 5.00 0 0 1 717.47 247.57 L749.18 233.54 A5.00 5.00 0 0 1 753.22 233.54 L784.93 247.57 A5.00 5.00 0 0 1 784.93 256.72 L753.22 270.75 A5.00 5.00 0 0 1 749.18 270.75 Z M714.49 230.20 L787.91 230.20 L787.91 252.15 L714.49 252.15 Z" fill="url(#gb)"/>
<path d="M717.39 234.74 A5.00 5.00 0 0 1 717.39 225.66 L749.10 210.97 A5.00 5.00 0 0 1 753.30 210.97 L785.01 225.66 A5.00 5.00 0 0 1 785.01 234.74 L753.30 249.43 A5.00 5.00 0 0 1 749.10 249.43 Z" fill="url(#gt)"/>
<path d="M798.29 311.14 A5.00 5.00 0 0 1 798.29 302.06 L830.00 287.37 A5.00 5.00 0 0 1 834.20 287.37 L865.91 302.06 A5.00 5.00 0 0 1 865.91 311.14 L834.20 325.83 A5.00 5.00 0 0 1 830.00 325.83 Z M798.37 333.12 A5.00 5.00 0 0 1 798.37 323.97 L830.08 309.94 A5.00 5.00 0 0 1 834.12 309.94 L865.83 323.97 A5.00 5.00 0 0 1 865.83 333.12 L834.12 347.15 A5.00 5.00 0 0 1 830.08 347.15 Z M795.39 306.60 L868.81 306.60 L868.81 328.55 L795.39 328.55 Z" fill="url(#gb)"/>
<path d="M798.29 311.14 A5.00 5.00 0 0 1 798.29 302.06 L830.00 287.37 A5.00 5.00 0 0 1 834.20 287.37 L865.91 302.06 A5.00 5.00 0 0 1 865.91 311.14 L834.20 325.83 A5.00 5.00 0 0 1 830.00 325.83 Z" fill="url(#gt)"/>
<path d="M798.29 285.84 A5.00 5.00 0 0 1 798.29 276.76 L830.00 262.07 A5.00 5.00 0 0 1 834.20 262.07 L865.91 276.76 A5.00 5.00 0 0 1 865.91 285.84 L834.20 300.53 A5.00 5.00 0 0 1 830.00 300.53 Z M798.37 307.82 A5.00 5.00 0 0 1 798.37 298.67 L830.08 284.64 A5.00 5.00 0 0 1 834.12 284.64 L865.83 298.67 A5.00 5.00 0 0 1 865.83 307.82 L834.12 321.85 A5.00 5.00 0 0 1 830.08 321.85 Z M795.39 281.30 L868.81 281.30 L868.81 303.25 L795.39 303.25 Z" fill="url(#gb)"/>
<path d="M798.29 285.84 A5.00 5.00 0 0 1 798.29 276.76 L830.00 262.07 A5.00 5.00 0 0 1 834.20 262.07 L865.91 276.76 A5.00 5.00 0 0 1 865.91 285.84 L834.20 300.53 A5.00 5.00 0 0 1 830.00 300.53 Z" fill="url(#gt)"/>
<path d="M798.29 260.54 A5.00 5.00 0 0 1 798.29 251.46 L830.00 236.77 A5.00 5.00 0 0 1 834.20 236.77 L865.91 251.46 A5.00 5.00 0 0 1 865.91 260.54 L834.20 275.23 A5.00 5.00 0 0 1 830.00 275.23 Z M798.37 282.52 A5.00 5.00 0 0 1 798.37 273.37 L830.08 259.34 A5.00 5.00 0 0 1 834.12 259.34 L865.83 273.37 A5.00 5.00 0 0 1 865.83 282.52 L834.12 296.55 A5.00 5.00 0 0 1 830.08 296.55 Z M795.39 256.00 L868.81 256.00 L868.81 277.95 L795.39 277.95 Z" fill="url(#gb)"/>
<path d="M798.29 260.54 A5.00 5.00 0 0 1 798.29 251.46 L830.00 236.77 A5.00 5.00 0 0 1 834.20 236.77 L865.91 251.46 A5.00 5.00 0 0 1 865.91 260.54 L834.20 275.23 A5.00 5.00 0 0 1 830.00 275.23 Z" fill="url(#gt)"/>
<path d="M798.29 235.24 A5.00 5.00 0 0 1 798.29 226.16 L830.00 211.47 A5.00 5.00 0 0 1 834.20 211.47 L865.91 226.16 A5.00 5.00 0 0 1 865.91 235.24 L834.20 249.93 A5.00 5.00 0 0 1 830.00 249.93 Z M798.37 257.22 A5.00 5.00 0 0 1 798.37 248.07 L830.08 234.04 A5.00 5.00 0 0 1 834.12 234.04 L865.83 248.07 A5.00 5.00 0 0 1 865.83 257.22 L834.12 271.25 A5.00 5.00 0 0 1 830.08 271.25 Z M795.39 230.70 L868.81 230.70 L868.81 252.65 L795.39 252.65 Z" fill="url(#gb)"/>
<path d="M798.29 235.24 A5.00 5.00 0 0 1 798.29 226.16 L830.00 211.47 A5.00 5.00 0 0 1 834.20 211.47 L865.91 226.16 A5.00 5.00 0 0 1 865.91 235.24 L834.20 249.93 A5.00 5.00 0 0 1 830.00 249.93 Z" fill="url(#gt)"/>
<path d="M879.19 311.64 A5.00 5.00 0 0 1 879.19 302.56 L910.90 287.87 A5.00 5.00 0 0 1 915.10 287.87 L946.81 302.56 A5.00 5.00 0 0 1 946.81 311.64 L915.10 326.33 A5.00 5.00 0 0 1 910.90 326.33 Z M879.27 333.62 A5.00 5.00 0 0 1 879.27 324.47 L910.98 310.44 A5.00 5.00 0 0 1 915.02 310.44 L946.73 324.47 A5.00 5.00 0 0 1 946.73 333.62 L915.02 347.65 A5.00 5.00 0 0 1 910.98 347.65 Z M876.29 307.10 L949.71 307.10 L949.71 329.05 L876.29 329.05 Z" fill="url(#gb)"/>
<path d="M879.19 311.64 A5.00 5.00 0 0 1 879.19 302.56 L910.90 287.87 A5.00 5.00 0 0 1 915.10 287.87 L946.81 302.56 A5.00 5.00 0 0 1 946.81 311.64 L915.10 326.33 A5.00 5.00 0 0 1 910.90 326.33 Z" fill="url(#gt)"/>
<path d="M879.19 286.34 A5.00 5.00 0 0 1 879.19 277.26 L910.90 262.57 A5.00 5.00 0 0 1 915.10 262.57 L946.81 277.26 A5.00 5.00 0 0 1 946.81 286.34 L915.10 301.03 A5.00 5.00 0 0 1 910.90 301.03 Z M879.27 308.32 A5.00 5.00 0 0 1 879.27 299.17 L910.98 285.14 A5.00 5.00 0 0 1 915.02 285.14 L946.73 299.17 A5.00 5.00 0 0 1 946.73 308.32 L915.02 322.35 A5.00 5.00 0 0 1 910.98 322.35 Z M876.29 281.80 L949.71 281.80 L949.71 303.75 L876.29 303.75 Z" fill="url(#gb)"/>
<path d="M879.19 286.34 A5.00 5.00 0 0 1 879.19 277.26 L910.90 262.57 A5.00 5.00 0 0 1 915.10 262.57 L946.81 277.26 A5.00 5.00 0 0 1 946.81 286.34 L915.10 301.03 A5.00 5.00 0 0 1 910.90 301.03 Z" fill="url(#gt)"/>
<path d="M879.19 261.04 A5.00 5.00 0 0 1 879.19 251.96 L910.90 237.27 A5.00 5.00 0 0 1 915.10 237.27 L946.81 251.96 A5.00 5.00 0 0 1 946.81 261.04 L915.10 275.73 A5.00 5.00 0 0 1 910.90 275.73 Z M879.27 283.02 A5.00 5.00 0 0 1 879.27 273.87 L910.98 259.84 A5.00 5.00 0 0 1 915.02 259.84 L946.73 273.87 A5.00 5.00 0 0 1 946.73 283.02 L915.02 297.05 A5.00 5.00 0 0 1 910.98 297.05 Z M876.29 256.50 L949.71 256.50 L949.71 278.45 L876.29 278.45 Z" fill="url(#gb)"/>
<path d="M879.19 261.04 A5.00 5.00 0 0 1 879.19 251.96 L910.90 237.27 A5.00 5.00 0 0 1 915.10 237.27 L946.81 251.96 A5.00 5.00 0 0 1 946.81 261.04 L915.10 275.73 A5.00 5.00 0 0 1 910.90 275.73 Z" fill="url(#gt)"/>
<path d="M879.19 235.74 A5.00 5.00 0 0 1 879.19 226.66 L910.90 211.97 A5.00 5.00 0 0 1 915.10 211.97 L946.81 226.66 A5.00 5.00 0 0 1 946.81 235.74 L915.10 250.43 A5.00 5.00 0 0 1 910.90 250.43 Z M879.27 257.72 A5.00 5.00 0 0 1 879.27 248.57 L910.98 234.54 A5.00 5.00 0 0 1 915.02 234.54 L946.73 248.57 A5.00 5.00 0 0 1 946.73 257.72 L915.02 271.75 A5.00 5.00 0 0 1 910.98 271.75 Z M876.29 231.20 L949.71 231.20 L949.71 253.15 L876.29 253.15 Z" fill="url(#gb)"/>
<path d="M879.19 235.74 A5.00 5.00 0 0 1 879.19 226.66 L910.90 211.97 A5.00 5.00 0 0 1 915.10 211.97 L946.81 226.66 A5.00 5.00 0 0 1 946.81 235.74 L915.10 250.43 A5.00 5.00 0 0 1 910.90 250.43 Z" fill="url(#gt)"/>
<path d="M675.99 330.54 A5.00 5.00 0 0 1 675.99 321.46 L707.70 306.77 A5.00 5.00 0 0 1 711.90 306.77 L743.61 321.46 A5.00 5.00 0 0 1 743.61 330.54 L711.90 345.23 A5.00 5.00 0 0 1 707.70 345.23 Z M676.07 352.52 A5.00 5.00 0 0 1 676.07 343.37 L707.78 329.34 A5.00 5.00 0 0 1 711.82 329.34 L743.53 343.37 A5.00 5.00 0 0 1 743.53 352.52 L711.82 366.55 A5.00 5.00 0 0 1 707.78 366.55 Z M673.09 326.00 L746.51 326.00 L746.51 347.95 L673.09 347.95 Z" fill="url(#gb)"/>
<path d="M675.99 330.54 A5.00 5.00 0 0 1 675.99 321.46 L707.70 306.77 A5.00 5.00 0 0 1 711.90 306.77 L743.61 321.46 A5.00 5.00 0 0 1 743.61 330.54 L711.90 345.23 A5.00 5.00 0 0 1 707.70 345.23 Z" fill="url(#gt)"/>
<path d="M675.99 305.24 A5.00 5.00 0 0 1 675.99 296.16 L707.70 281.47 A5.00 5.00 0 0 1 711.90 281.47 L743.61 296.16 A5.00 5.00 0 0 1 743.61 305.24 L711.90 319.93 A5.00 5.00 0 0 1 707.70 319.93 Z M676.07 327.22 A5.00 5.00 0 0 1 676.07 318.07 L707.78 304.04 A5.00 5.00 0 0 1 711.82 304.04 L743.53 318.07 A5.00 5.00 0 0 1 743.53 327.22 L711.82 341.25 A5.00 5.00 0 0 1 707.78 341.25 Z M673.09 300.70 L746.51 300.70 L746.51 322.65 L673.09 322.65 Z" fill="url(#gb)"/>
<path d="M675.99 305.24 A5.00 5.00 0 0 1 675.99 296.16 L707.70 281.47 A5.00 5.00 0 0 1 711.90 281.47 L743.61 296.16 A5.00 5.00 0 0 1 743.61 305.24 L711.90 319.93 A5.00 5.00 0 0 1 707.70 319.93 Z" fill="url(#gt)"/>
<path d="M675.99 279.94 A5.00 5.00 0 0 1 675.99 270.86 L707.70 256.17 A5.00 5.00 0 0 1 711.90 256.17 L743.61 270.86 A5.00 5.00 0 0 1 743.61 279.94 L711.90 294.63 A5.00 5.00 0 0 1 707.70 294.63 Z M676.07 301.92 A5.00 5.00 0 0 1 676.07 292.77 L707.78 278.74 A5.00 5.00 0 0 1 711.82 278.74 L743.53 292.77 A5.00 5.00 0 0 1 743.53 301.92 L711.82 315.95 A5.00 5.00 0 0 1 707.78 315.95 Z M673.09 275.40 L746.51 275.40 L746.51 297.35 L673.09 297.35 Z" fill="url(#gb)"/>
<path d="M675.99 279.94 A5.00 5.00 0 0 1 675.99 270.86 L707.70 256.17 A5.00 5.00 0 0 1 711.90 256.17 L743.61 270.86 A5.00 5.00 0 0 1 743.61 279.94 L711.90 294.63 A5.00 5.00 0 0 1 707.70 294.63 Z" fill="url(#gt)"/>
<path d="M756.89 331.04 A5.00 5.00 0 0 1 756.89 321.96 L788.60 307.27 A5.00 5.00 0 0 1 792.80 307.27 L824.51 321.96 A5.00 5.00 0 0 1 824.51 331.04 L792.80 345.73 A5.00 5.00 0 0 1 788.60 345.73 Z M756.97 353.02 A5.00 5.00 0 0 1 756.97 343.87 L788.68 329.84 A5.00 5.00 0 0 1 792.72 329.84 L824.43 343.87 A5.00 5.00 0 0 1 824.43 353.02 L792.72 367.05 A5.00 5.00 0 0 1 788.68 367.05 Z M753.99 326.50 L827.41 326.50 L827.41 348.45 L753.99 348.45 Z" fill="url(#gb)"/>
<path d="M756.89 331.04 A5.00 5.00 0 0 1 756.89 321.96 L788.60 307.27 A5.00 5.00 0 0 1 792.80 307.27 L824.51 321.96 A5.00 5.00 0 0 1 824.51 331.04 L792.80 345.73 A5.00 5.00 0 0 1 788.60 345.73 Z" fill="url(#gt)"/>
<path d="M756.89 305.74 A5.00 5.00 0 0 1 756.89 296.66 L788.60 281.97 A5.00 5.00 0 0 1 792.80 281.97 L824.51 296.66 A5.00 5.00 0 0 1 824.51 305.74 L792.80 320.43 A5.00 5.00 0 0 1 788.60 320.43 Z M756.97 327.72 A5.00 5.00 0 0 1 756.97 318.57 L788.68 304.54 A5.00 5.00 0 0 1 792.72 304.54 L824.43 318.57 A5.00 5.00 0 0 1 824.43 327.72 L792.72 341.75 A5.00 5.00 0 0 1 788.68 341.75 Z M753.99 301.20 L827.41 301.20 L827.41 323.15 L753.99 323.15 Z" fill="url(#gb)"/>
<path d="M756.89 305.74 A5.00 5.00 0 0 1 756.89 296.66 L788.60 281.97 A5.00 5.00 0 0 1 792.80 281.97 L824.51 296.66 A5.00 5.00 0 0 1 824.51 305.74 L792.80 320.43 A5.00 5.00 0 0 1 788.60 320.43 Z" fill="url(#gt)"/>
<path d="M756.89 280.44 A5.00 5.00 0 0 1 756.89 271.36 L788.60 256.67 A5.00 5.00 0 0 1 792.80 256.67 L824.51 271.36 A5.00 5.00 0 0 1 824.51 280.44 L792.80 295.13 A5.00 5.00 0 0 1 788.60 295.13 Z M756.97 302.42 A5.00 5.00 0 0 1 756.97 293.27 L788.68 279.24 A5.00 5.00 0 0 1 792.72 279.24 L824.43 293.27 A5.00 5.00 0 0 1 824.43 302.42 L792.72 316.45 A5.00 5.00 0 0 1 788.68 316.45 Z M753.99 275.90 L827.41 275.90 L827.41 297.85 L753.99 297.85 Z" fill="url(#gb)"/>
<path d="M756.89 280.44 A5.00 5.00 0 0 1 756.89 271.36 L788.60 256.67 A5.00 5.00 0 0 1 792.80 256.67 L824.51 271.36 A5.00 5.00 0 0 1 824.51 280.44 L792.80 295.13 A5.00 5.00 0 0 1 788.60 295.13 Z" fill="url(#gt)"/>
<path d="M756.89 255.14 A5.00 5.00 0 0 1 756.89 246.06 L788.60 231.37 A5.00 5.00 0 0 1 792.80 231.37 L824.51 246.06 A5.00 5.00 0 0 1 824.51 255.14 L792.80 269.83 A5.00 5.00 0 0 1 788.60 269.83 Z M756.97 277.12 A5.00 5.00 0 0 1 756.97 267.97 L788.68 253.94 A5.00 5.00 0 0 1 792.72 253.94 L824.43 267.97 A5.00 5.00 0 0 1 824.43 277.12 L792.72 291.15 A5.00 5.00 0 0 1 788.68 291.15 Z M753.99 250.60 L827.41 250.60 L827.41 272.55 L753.99 272.55 Z" fill="url(#gb)"/>
<path d="M756.89 255.14 A5.00 5.00 0 0 1 756.89 246.06 L788.60 231.37 A5.00 5.00 0 0 1 792.80 231.37 L824.51 246.06 A5.00 5.00 0 0 1 824.51 255.14 L792.80 269.83 A5.00 5.00 0 0 1 788.60 269.83 Z" fill="url(#gt)"/>
<path d="M837.79 331.54 A5.00 5.00 0 0 1 837.79 322.46 L869.50 307.77 A5.00 5.00 0 0 1 873.70 307.77 L905.41 322.46 A5.00 5.00 0 0 1 905.41 331.54 L873.70 346.23 A5.00 5.00 0 0 1 869.50 346.23 Z M837.87 353.52 A5.00 5.00 0 0 1 837.87 344.37 L869.58 330.34 A5.00 5.00 0 0 1 873.62 330.34 L905.33 344.37 A5.00 5.00 0 0 1 905.33 353.52 L873.62 367.55 A5.00 5.00 0 0 1 869.58 367.55 Z M834.89 327.00 L908.31 327.00 L908.31 348.95 L834.89 348.95 Z" fill="url(#gb)"/>
<path d="M837.79 331.54 A5.00 5.00 0 0 1 837.79 322.46 L869.50 307.77 A5.00 5.00 0 0 1 873.70 307.77 L905.41 322.46 A5.00 5.00 0 0 1 905.41 331.54 L873.70 346.23 A5.00 5.00 0 0 1 869.50 346.23 Z" fill="url(#gt)"/>
<path d="M837.79 306.24 A5.00 5.00 0 0 1 837.79 297.16 L869.50 282.47 A5.00 5.00 0 0 1 873.70 282.47 L905.41 297.16 A5.00 5.00 0 0 1 905.41 306.24 L873.70 320.93 A5.00 5.00 0 0 1 869.50 320.93 Z M837.87 328.22 A5.00 5.00 0 0 1 837.87 319.07 L869.58 305.04 A5.00 5.00 0 0 1 873.62 305.04 L905.33 319.07 A5.00 5.00 0 0 1 905.33 328.22 L873.62 342.25 A5.00 5.00 0 0 1 869.58 342.25 Z M834.89 301.70 L908.31 301.70 L908.31 323.65 L834.89 323.65 Z" fill="url(#gb)"/>
<path d="M837.79 306.24 A5.00 5.00 0 0 1 837.79 297.16 L869.50 282.47 A5.00 5.00 0 0 1 873.70 282.47 L905.41 297.16 A5.00 5.00 0 0 1 905.41 306.24 L873.70 320.93 A5.00 5.00 0 0 1 869.50 320.93 Z" fill="url(#gt)"/>
<path d="M837.79 280.94 A5.00 5.00 0 0 1 837.79 271.86 L869.50 257.17 A5.00 5.00 0 0 1 873.70 257.17 L905.41 271.86 A5.00 5.00 0 0 1 905.41 280.94 L873.70 295.63 A5.00 5.00 0 0 1 869.50 295.63 Z M837.87 302.92 A5.00 5.00 0 0 1 837.87 293.77 L869.58 279.74 A5.00 5.00 0 0 1 873.62 279.74 L905.33 293.77 A5.00 5.00 0 0 1 905.33 302.92 L873.62 316.95 A5.00 5.00 0 0 1 869.58 316.95 Z M834.89 276.40 L908.31 276.40 L908.31 298.35 L834.89 298.35 Z" fill="url(#gb)"/>
<path d="M837.79 280.94 A5.00 5.00 0 0 1 837.79 271.86 L869.50 257.17 A5.00 5.00 0 0 1 873.70 257.17 L905.41 271.86 A5.00 5.00 0 0 1 905.41 280.94 L873.70 295.63 A5.00 5.00 0 0 1 869.50 295.63 Z" fill="url(#gt)"/>
<path d="M837.79 255.64 A5.00 5.00 0 0 1 837.79 246.56 L869.50 231.87 A5.00 5.00 0 0 1 873.70 231.87 L905.41 246.56 A5.00 5.00 0 0 1 905.41 255.64 L873.70 270.33 A5.00 5.00 0 0 1 869.50 270.33 Z M837.87 277.62 A5.00 5.00 0 0 1 837.87 268.47 L869.58 254.44 A5.00 5.00 0 0 1 873.62 254.44 L905.33 268.47 A5.00 5.00 0 0 1 905.33 277.62 L873.62 291.65 A5.00 5.00 0 0 1 869.58 291.65 Z M834.89 251.10 L908.31 251.10 L908.31 273.05 L834.89 273.05 Z" fill="url(#gb)"/>
<path d="M837.79 255.64 A5.00 5.00 0 0 1 837.79 246.56 L869.50 231.87 A5.00 5.00 0 0 1 873.70 231.87 L905.41 246.56 A5.00 5.00 0 0 1 905.41 255.64 L873.70 270.33 A5.00 5.00 0 0 1 869.50 270.33 Z" fill="url(#gt)"/>
<path d="M715.49 350.94 A5.00 5.00 0 0 1 715.49 341.86 L747.20 327.17 A5.00 5.00 0 0 1 751.40 327.17 L783.11 341.86 A5.00 5.00 0 0 1 783.11 350.94 L751.40 365.63 A5.00 5.00 0 0 1 747.20 365.63 Z M715.57 372.92 A5.00 5.00 0 0 1 715.57 363.77 L747.28 349.74 A5.00 5.00 0 0 1 751.32 349.74 L783.03 363.77 A5.00 5.00 0 0 1 783.03 372.92 L751.32 386.95 A5.00 5.00 0 0 1 747.28 386.95 Z M712.59 346.40 L786.01 346.40 L786.01 368.35 L712.59 368.35 Z" fill="url(#gb)"/>
<path d="M715.49 350.94 A5.00 5.00 0 0 1 715.49 341.86 L747.20 327.17 A5.00 5.00 0 0 1 751.40 327.17 L783.11 341.86 A5.00 5.00 0 0 1 783.11 350.94 L751.40 365.63 A5.00 5.00 0 0 1 747.20 365.63 Z" fill="url(#gt)"/>
<path d="M715.49 325.64 A5.00 5.00 0 0 1 715.49 316.56 L747.20 301.87 A5.00 5.00 0 0 1 751.40 301.87 L783.11 316.56 A5.00 5.00 0 0 1 783.11 325.64 L751.40 340.33 A5.00 5.00 0 0 1 747.20 340.33 Z M715.57 347.62 A5.00 5.00 0 0 1 715.57 338.47 L747.28 324.44 A5.00 5.00 0 0 1 751.32 324.44 L783.03 338.47 A5.00 5.00 0 0 1 783.03 347.62 L751.32 361.65 A5.00 5.00 0 0 1 747.28 361.65 Z M712.59 321.10 L786.01 321.10 L786.01 343.05 L712.59 343.05 Z" fill="url(#gb)"/>
<path d="M715.49 325.64 A5.00 5.00 0 0 1 715.49 316.56 L747.20 301.87 A5.00 5.00 0 0 1 751.40 301.87 L783.11 316.56 A5.00 5.00 0 0 1 783.11 325.64 L751.40 340.33 A5.00 5.00 0 0 1 747.20 340.33 Z" fill="url(#gt)"/>
<path d="M715.49 300.34 A5.00 5.00 0 0 1 715.49 291.26 L747.20 276.57 A5.00 5.00 0 0 1 751.40 276.57 L783.11 291.26 A5.00 5.00 0 0 1 783.11 300.34 L751.40 315.03 A5.00 5.00 0 0 1 747.20 315.03 Z M715.57 322.32 A5.00 5.00 0 0 1 715.57 313.17 L747.28 299.14 A5.00 5.00 0 0 1 751.32 299.14 L783.03 313.17 A5.00 5.00 0 0 1 783.03 322.32 L751.32 336.35 A5.00 5.00 0 0 1 747.28 336.35 Z M712.59 295.80 L786.01 295.80 L786.01 317.75 L712.59 317.75 Z" fill="url(#gb)"/>
<path d="M715.49 300.34 A5.00 5.00 0 0 1 715.49 291.26 L747.20 276.57 A5.00 5.00 0 0 1 751.40 276.57 L783.11 291.26 A5.00 5.00 0 0 1 783.11 300.34 L751.40 315.03 A5.00 5.00 0 0 1 747.20 315.03 Z" fill="url(#gt)"/>
<path d="M796.39 351.44 A5.00 5.00 0 0 1 796.39 342.36 L828.10 327.67 A5.00 5.00 0 0 1 832.30 327.67 L864.01 342.36 A5.00 5.00 0 0 1 864.01 351.44 L832.30 366.13 A5.00 5.00 0 0 1 828.10 366.13 Z M796.47 373.42 A5.00 5.00 0 0 1 796.47 364.27 L828.18 350.24 A5.00 5.00 0 0 1 832.22 350.24 L863.93 364.27 A5.00 5.00 0 0 1 863.93 373.42 L832.22 387.45 A5.00 5.00 0 0 1 828.18 387.45 Z M793.49 346.90 L866.91 346.90 L866.91 368.85 L793.49 368.85 Z" fill="url(#gb)"/>
<path d="M796.39 351.44 A5.00 5.00 0 0 1 796.39 342.36 L828.10 327.67 A5.00 5.00 0 0 1 832.30 327.67 L864.01 342.36 A5.00 5.00 0 0 1 864.01 351.44 L832.30 366.13 A5.00 5.00 0 0 1 828.10 366.13 Z" fill="url(#gt)"/>
<path d="M796.39 326.14 A5.00 5.00 0 0 1 796.39 317.06 L828.10 302.37 A5.00 5.00 0 0 1 832.30 302.37 L864.01 317.06 A5.00 5.00 0 0 1 864.01 326.14 L832.30 340.83 A5.00 5.00 0 0 1 828.10 340.83 Z M796.47 348.12 A5.00 5.00 0 0 1 796.47 338.97 L828.18 324.94 A5.00 5.00 0 0 1 832.22 324.94 L863.93 338.97 A5.00 5.00 0 0 1 863.93 348.12 L832.22 362.15 A5.00 5.00 0 0 1 828.18 362.15 Z M793.49 321.60 L866.91 321.60 L866.91 343.55 L793.49 343.55 Z" fill="url(#gb)"/>
<path d="M796.39 326.14 A5.00 5.00 0 0 1 796.39 317.06 L828.10 302.37 A5.00 5.00 0 0 1 832.30 302.37 L864.01 317.06 A5.00 5.00 0 0 1 864.01 326.14 L832.30 340.83 A5.00 5.00 0 0 1 828.10 340.83 Z" fill="url(#gt)"/>
<path d="M796.39 300.84 A5.00 5.00 0 0 1 796.39 291.76 L828.10 277.07 A5.00 5.00 0 0 1 832.30 277.07 L864.01 291.76 A5.00 5.00 0 0 1 864.01 300.84 L832.30 315.53 A5.00 5.00 0 0 1 828.10 315.53 Z M796.47 322.82 A5.00 5.00 0 0 1 796.47 313.67 L828.18 299.64 A5.00 5.00 0 0 1 832.22 299.64 L863.93 313.67 A5.00 5.00 0 0 1 863.93 322.82 L832.22 336.85 A5.00 5.00 0 0 1 828.18 336.85 Z M793.49 296.30 L866.91 296.30 L866.91 318.25 L793.49 318.25 Z" fill="url(#gb)"/>
<path d="M796.39 300.84 A5.00 5.00 0 0 1 796.39 291.76 L828.10 277.07 A5.00 5.00 0 0 1 832.30 277.07 L864.01 291.76 A5.00 5.00 0 0 1 864.01 300.84 L832.30 315.53 A5.00 5.00 0 0 1 828.10 315.53 Z" fill="url(#gt)"/>
<path d="M796.39 275.54 A5.00 5.00 0 0 1 796.39 266.46 L828.10 251.77 A5.00 5.00 0 0 1 832.30 251.77 L864.01 266.46 A5.00 5.00 0 0 1 864.01 275.54 L832.30 290.23 A5.00 5.00 0 0 1 828.10 290.23 Z M796.47 297.52 A5.00 5.00 0 0 1 796.47 288.37 L828.18 274.34 A5.00 5.00 0 0 1 832.22 274.34 L863.93 288.37 A5.00 5.00 0 0 1 863.93 297.52 L832.22 311.55 A5.00 5.00 0 0 1 828.18 311.55 Z M793.49 271.00 L866.91 271.00 L866.91 292.95 L793.49 292.95 Z" fill="url(#gb)"/>
<path d="M796.39 275.54 A5.00 5.00 0 0 1 796.39 266.46 L828.10 251.77 A5.00 5.00 0 0 1 832.30 251.77 L864.01 266.46 A5.00 5.00 0 0 1 864.01 275.54 L832.30 290.23 A5.00 5.00 0 0 1 828.10 290.23 Z" fill="url(#gt)"/>
<path d="M754.99 371.34 A5.00 5.00 0 0 1 754.99 362.26 L786.70 347.57 A5.00 5.00 0 0 1 790.90 347.57 L822.61 362.26 A5.00 5.00 0 0 1 822.61 371.34 L790.90 386.03 A5.00 5.00 0 0 1 786.70 386.03 Z M755.07 393.32 A5.00 5.00 0 0 1 755.07 384.17 L786.78 370.14 A5.00 5.00 0 0 1 790.82 370.14 L822.53 384.17 A5.00 5.00 0 0 1 822.53 393.32 L790.82 407.35 A5.00 5.00 0 0 1 786.78 407.35 Z M752.09 366.80 L825.51 366.80 L825.51 388.75 L752.09 388.75 Z" fill="url(#gb)"/>
<path d="M754.99 371.34 A5.00 5.00 0 0 1 754.99 362.26 L786.70 347.57 A5.00 5.00 0 0 1 790.90 347.57 L822.61 362.26 A5.00 5.00 0 0 1 822.61 371.34 L790.90 386.03 A5.00 5.00 0 0 1 786.70 386.03 Z" fill="url(#gt)"/>
<path d="M754.99 346.04 A5.00 5.00 0 0 1 754.99 336.96 L786.70 322.27 A5.00 5.00 0 0 1 790.90 322.27 L822.61 336.96 A5.00 5.00 0 0 1 822.61 346.04 L790.90 360.73 A5.00 5.00 0 0 1 786.70 360.73 Z M755.07 368.02 A5.00 5.00 0 0 1 755.07 358.87 L786.78 344.84 A5.00 5.00 0 0 1 790.82 344.84 L822.53 358.87 A5.00 5.00 0 0 1 822.53 368.02 L790.82 382.05 A5.00 5.00 0 0 1 786.78 382.05 Z M752.09 341.50 L825.51 341.50 L825.51 363.45 L752.09 363.45 Z" fill="url(#gb)"/>
<path d="M754.99 346.04 A5.00 5.00 0 0 1 754.99 336.96 L786.70 322.27 A5.00 5.00 0 0 1 790.90 322.27 L822.61 336.96 A5.00 5.00 0 0 1 822.61 346.04 L790.90 360.73 A5.00 5.00 0 0 1 786.70 360.73 Z" fill="url(#gt)"/>
<path d="M754.99 320.74 A5.00 5.00 0 0 1 754.99 311.66 L786.70 296.97 A5.00 5.00 0 0 1 790.90 296.97 L822.61 311.66 A5.00 5.00 0 0 1 822.61 320.74 L790.90 335.43 A5.00 5.00 0 0 1 786.70 335.43 Z M755.07 342.72 A5.00 5.00 0 0 1 755.07 333.57 L786.78 319.54 A5.00 5.00 0 0 1 790.82 319.54 L822.53 333.57 A5.00 5.00 0 0 1 822.53 342.72 L790.82 356.75 A5.00 5.00 0 0 1 786.78 356.75 Z M752.09 316.20 L825.51 316.20 L825.51 338.15 L752.09 338.15 Z" fill="url(#gb)"/>
<path d="M754.99 320.74 A5.00 5.00 0 0 1 754.99 311.66 L786.70 296.97 A5.00 5.00 0 0 1 790.90 296.97 L822.61 311.66 A5.00 5.00 0 0 1 822.61 320.74 L790.90 335.43 A5.00 5.00 0 0 1 786.70 335.43 Z" fill="url(#gt)"/>
<path d="M731.39 132.14 A5.00 5.00 0 0 1 731.39 123.06 L763.10 108.37 A5.00 5.00 0 0 1 767.30 108.37 L799.01 123.06 A5.00 5.00 0 0 1 799.01 132.14 L767.30 146.83 A5.00 5.00 0 0 1 763.10 146.83 Z M731.47 153.67 A5.00 5.00 0 0 1 731.47 144.52 L763.18 130.49 A5.00 5.00 0 0 1 767.22 130.49 L798.93 144.52 A5.00 5.00 0 0 1 798.93 153.67 L767.22 167.70 A5.00 5.00 0 0 1 763.18 167.70 Z M728.49 127.60 L801.91 127.60 L801.91 149.10 L728.49 149.10 Z" fill="url(#gb)"/>
<path d="M731.39 132.14 A5.00 5.00 0 0 1 731.39 123.06 L763.10 108.37 A5.00 5.00 0 0 1 767.30 108.37 L799.01 123.06 A5.00 5.00 0 0 1 799.01 132.14 L767.30 146.83 A5.00 5.00 0 0 1 763.10 146.83 Z" fill="url(#gt)"/>
<path d="M571.19 293.34 A5.00 5.00 0 0 1 571.19 284.26 L602.90 269.57 A5.00 5.00 0 0 1 607.10 269.57 L638.81 284.26 A5.00 5.00 0 0 1 638.81 293.34 L607.10 308.03 A5.00 5.00 0 0 1 602.90 308.03 Z M571.27 314.87 A5.00 5.00 0 0 1 571.27 305.72 L602.98 291.69 A5.00 5.00 0 0 1 607.02 291.69 L638.73 305.72 A5.00 5.00 0 0 1 638.73 314.87 L607.02 328.90 A5.00 5.00 0 0 1 602.98 328.90 Z M568.29 288.80 L641.71 288.80 L641.71 310.30 L568.29 310.30 Z" fill="url(#gb)"/>
<path d="M571.19 293.34 A5.00 5.00 0 0 1 571.19 284.26 L602.90 269.57 A5.00 5.00 0 0 1 607.10 269.57 L638.81 284.26 A5.00 5.00 0 0 1 638.81 293.34 L607.10 308.03 A5.00 5.00 0 0 1 602.90 308.03 Z" fill="url(#gt)"/>
<path d="M670.19 353.04 A5.00 5.00 0 0 1 670.19 343.96 L701.90 329.27 A5.00 5.00 0 0 1 706.10 329.27 L737.81 343.96 A5.00 5.00 0 0 1 737.81 353.04 L706.10 367.73 A5.00 5.00 0 0 1 701.90 367.73 Z M670.27 374.57 A5.00 5.00 0 0 1 670.27 365.42 L701.98 351.39 A5.00 5.00 0 0 1 706.02 351.39 L737.73 365.42 A5.00 5.00 0 0 1 737.73 374.57 L706.02 388.60 A5.00 5.00 0 0 1 701.98 388.60 Z M667.29 348.50 L740.71 348.50 L740.71 370.00 L667.29 370.00 Z" fill="url(#gb)"/>
<path d="M670.19 353.04 A5.00 5.00 0 0 1 670.19 343.96 L701.90 329.27 A5.00 5.00 0 0 1 706.10 329.27 L737.81 343.96 A5.00 5.00 0 0 1 737.81 353.04 L706.10 367.73 A5.00 5.00 0 0 1 701.90 367.73 Z" fill="url(#gt)"/>
<path d="M353.04 425.16 A2.60 2.60 0 0 1 353.04 420.44 L368.10 413.41 A2.60 2.60 0 0 1 370.30 413.41 L385.36 420.44 A2.60 2.60 0 0 1 385.36 425.16 L370.30 432.19 A2.60 2.60 0 0 1 368.10 432.19 Z M353.08 434.78 A2.60 2.60 0 0 1 353.08 430.03 L368.14 423.29 A2.60 2.60 0 0 1 370.26 423.29 L385.32 430.03 A2.60 2.60 0 0 1 385.32 434.78 L370.26 441.52 A2.60 2.60 0 0 1 368.14 441.52 Z M351.54 422.80 L386.86 422.80 L386.86 432.40 L351.54 432.40 Z" fill="url(#sb)"/>
<path d="M353.04 425.16 A2.60 2.60 0 0 1 353.04 420.44 L368.10 413.41 A2.60 2.60 0 0 1 370.30 413.41 L385.36 420.44 A2.60 2.60 0 0 1 385.36 425.16 L370.30 432.19 A2.60 2.60 0 0 1 368.10 432.19 Z" fill="url(#st)"/>
<path d="M427.34 435.86 A2.60 2.60 0 0 1 427.34 431.14 L442.40 424.11 A2.60 2.60 0 0 1 444.60 424.11 L459.66 431.14 A2.60 2.60 0 0 1 459.66 435.86 L444.60 442.89 A2.60 2.60 0 0 1 442.40 442.89 Z M427.38 445.48 A2.60 2.60 0 0 1 427.38 440.73 L442.44 433.99 A2.60 2.60 0 0 1 444.56 433.99 L459.62 440.73 A2.60 2.60 0 0 1 459.62 445.48 L444.56 452.22 A2.60 2.60 0 0 1 442.44 452.22 Z M425.84 433.50 L461.16 433.50 L461.16 443.10 L425.84 443.10 Z" fill="url(#sb)"/>
<path d="M427.34 435.86 A2.60 2.60 0 0 1 427.34 431.14 L442.40 424.11 A2.60 2.60 0 0 1 444.60 424.11 L459.66 431.14 A2.60 2.60 0 0 1 459.66 435.86 L444.60 442.89 A2.60 2.60 0 0 1 442.40 442.89 Z" fill="url(#st)"/>
<path d="M387.14 466.66 A2.60 2.60 0 0 1 387.14 461.94 L402.20 454.91 A2.60 2.60 0 0 1 404.40 454.91 L419.46 461.94 A2.60 2.60 0 0 1 419.46 466.66 L404.40 473.69 A2.60 2.60 0 0 1 402.20 473.69 Z M387.18 476.28 A2.60 2.60 0 0 1 387.18 471.53 L402.24 464.79 A2.60 2.60 0 0 1 404.36 464.79 L419.42 471.53 A2.60 2.60 0 0 1 419.42 476.28 L404.36 483.02 A2.60 2.60 0 0 1 402.24 483.02 Z M385.64 464.30 L420.96 464.30 L420.96 473.90 L385.64 473.90 Z" fill="url(#sb)"/>
<path d="M387.14 466.66 A2.60 2.60 0 0 1 387.14 461.94 L402.20 454.91 A2.60 2.60 0 0 1 404.40 454.91 L419.46 461.94 A2.60 2.60 0 0 1 419.46 466.66 L404.40 473.69 A2.60 2.60 0 0 1 402.20 473.69 Z" fill="url(#st)"/>
<path d="M510.04 398.16 A2.60 2.60 0 0 1 510.04 393.44 L525.10 386.41 A2.60 2.60 0 0 1 527.30 386.41 L542.36 393.44 A2.60 2.60 0 0 1 542.36 398.16 L527.30 405.19 A2.60 2.60 0 0 1 525.10 405.19 Z M510.08 407.78 A2.60 2.60 0 0 1 510.08 403.03 L525.14 396.29 A2.60 2.60 0 0 1 527.26 396.29 L542.32 403.03 A2.60 2.60 0 0 1 542.32 407.78 L527.26 414.52 A2.60 2.60 0 0 1 525.14 414.52 Z M508.54 395.80 L543.86 395.80 L543.86 405.40 L508.54 405.40 Z" fill="url(#sb)"/>
<path d="M510.04 398.16 A2.60 2.60 0 0 1 510.04 393.44 L525.10 386.41 A2.60 2.60 0 0 1 527.30 386.41 L542.36 393.44 A2.60 2.60 0 0 1 542.36 398.16 L527.30 405.19 A2.60 2.60 0 0 1 525.10 405.19 Z" fill="url(#st)"/>
<path d="M560.74 398.16 A2.60 2.60 0 0 1 560.74 393.44 L575.80 386.41 A2.60 2.60 0 0 1 578.00 386.41 L593.06 393.44 A2.60 2.60 0 0 1 593.06 398.16 L578.00 405.19 A2.60 2.60 0 0 1 575.80 405.19 Z M560.78 407.78 A2.60 2.60 0 0 1 560.78 403.03 L575.84 396.29 A2.60 2.60 0 0 1 577.96 396.29 L593.02 403.03 A2.60 2.60 0 0 1 593.02 407.78 L577.96 414.52 A2.60 2.60 0 0 1 575.84 414.52 Z M559.24 395.80 L594.56 395.80 L594.56 405.40 L559.24 405.40 Z" fill="url(#sb)"/>
<path d="M560.74 398.16 A2.60 2.60 0 0 1 560.74 393.44 L575.80 386.41 A2.60 2.60 0 0 1 578.00 386.41 L593.06 393.44 A2.60 2.60 0 0 1 593.06 398.16 L578.00 405.19 A2.60 2.60 0 0 1 575.80 405.19 Z" fill="url(#st)"/>
<path d="M614.34 392.86 A2.60 2.60 0 0 1 614.34 388.14 L629.40 381.11 A2.60 2.60 0 0 1 631.60 381.11 L646.66 388.14 A2.60 2.60 0 0 1 646.66 392.86 L631.60 399.89 A2.60 2.60 0 0 1 629.40 399.89 Z M614.38 402.48 A2.60 2.60 0 0 1 614.38 397.73 L629.44 390.99 A2.60 2.60 0 0 1 631.56 390.99 L646.62 397.73 A2.60 2.60 0 0 1 646.62 402.48 L631.56 409.22 A2.60 2.60 0 0 1 629.44 409.22 Z M612.84 390.50 L648.16 390.50 L648.16 400.10 L612.84 400.10 Z" fill="url(#sb)"/>
<path d="M614.34 392.86 A2.60 2.60 0 0 1 614.34 388.14 L629.40 381.11 A2.60 2.60 0 0 1 631.60 381.11 L646.66 388.14 A2.60 2.60 0 0 1 646.66 392.86 L631.60 399.89 A2.60 2.60 0 0 1 629.40 399.89 Z" fill="url(#st)"/>
<path d="M489.5 419.5 L505.5 416.5 L500.9 425.7" fill="none" stroke="url(#ar)" stroke-width="3" stroke-linecap="round" stroke-linejoin="miter"/>
<path d="M538.0 419.5 L554.0 416.5 L549.4 425.7" fill="none" stroke="url(#ar)" stroke-width="3" stroke-linecap="round" stroke-linejoin="miter"/>
<path d="M584.3 419.5 L600.3 416.5 L595.7 425.7" fill="none" stroke="url(#ar)" stroke-width="3" stroke-linecap="round" stroke-linejoin="miter"/>
</svg>
</body></html>
